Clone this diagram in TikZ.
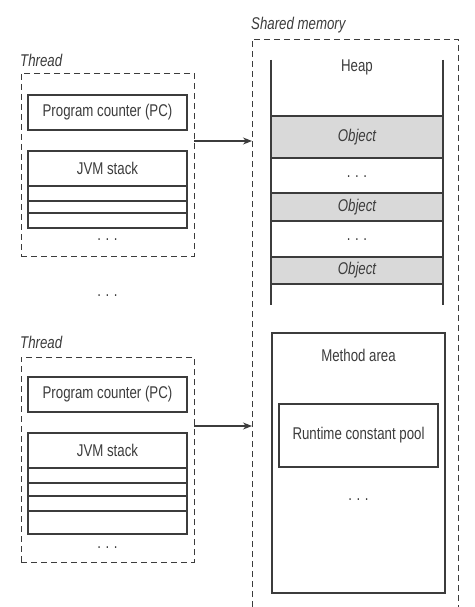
\documentclass[tikz,border=0pt]{standalone}
\usepackage{fontspec}
\setmainfont{Liberation Sans}[FakeStretch=0.78]
\usetikzlibrary{arrows.meta}
\definecolor{linegray}{HTML}{3C3C3C}
\definecolor{objgray}{HTML}{D9D9D9}
\newcommand{\rowdots}{.\hspace{4.5pt}.\hspace{4.5pt}.}
\tikzset{
	x=1pt,y=-1pt,
	box/.style={draw=linegray,line width=1.1pt,inner sep=0pt,outer sep=0pt,
		font=\fontsize{17}{19}\selectfont,text=linegray},
	dashbox/.style={draw=linegray,line width=0.9pt,dash pattern=on 6pt off 4pt,
		inner sep=0pt,outer sep=0pt},
	lbl/.style={font=\fontsize{17}{19}\selectfont,text=linegray,inner sep=0pt},
	tag/.style={font=\fontsize{17}{19}\selectfont\itshape,text=linegray,inner sep=0pt,anchor=west},
	obj/.style={box,fill=objgray,font=\fontsize{17}{19}\selectfont\itshape,
		minimum width=172pt},
	arr/.style={-{Stealth[length=9pt,width=7pt]},draw=linegray,line width=1.1pt},
	rule/.style={draw=linegray,line width=1.1pt},
}
\begin{document}
\begin{tikzpicture}
	\useasboundingbox[fill=white] (0,0) rectangle (474,607);
	% Threads
	\node[tag] (tag1) at (20,60) {Thread};
	\node[dashbox,minimum width=173pt,minimum height=183pt] (thread1) at (107.5,164.5) {};
	\node[box,minimum width=159pt,minimum height=35pt] (pc1) at (107.5,112.5) {Program counter (PC)};
	\node[box,minimum width=159pt,minimum height=35pt] (jvm1) at (107.5,168.5) {JVM stack};
	\draw[rule] (jvm1.south west) rectangle (187,228);
	\foreach \y in {201,213}
		\draw[rule] (28,\y)--(187,\y);
	\node[lbl] (dots1) at (107.5,240) {\rowdots};
	\node[lbl] (dotsmid) at (107.5,296) {\rowdots};
	\node[tag] (tag2) at (20,342) {Thread};
	\node[dashbox,minimum width=173pt,minimum height=205pt] (thread2) at (107.5,459.5) {};
	\node[box,minimum width=159pt,minimum height=35pt] (pc2) at (107.5,394.5) {Program counter (PC)};
	\node[box,minimum width=159pt,minimum height=35pt] (jvm2) at (107.5,450.5) {JVM stack};
	\draw[rule] (jvm2.south west) rectangle (187,534);
	\foreach \y in {483,496,511}
		\draw[rule] (28,\y)--(187,\y);
	\node[lbl] (dots2) at (107.5,548) {\rowdots};
	% Shared memory
	\node[tag] (tagshared) at (251,25) {Shared memory};
	\draw[dashbox] (252,607) |- (458,39) -- (458,607);
	\coordinate (in1) at (252,141);
	\coordinate (in2) at (252,426);
	% Heap
	\node[lbl] (heap) at (357,67) {Heap};
	\draw[rule] (271,60)--(271,305) (443,60)--(443,305);
	\node[obj,minimum height=42pt] (obj1) at (357,137) {Object};
	\node[lbl] (dotsh1) at (357,177) {\rowdots};
	\node[obj,minimum height=28pt] (obj2) at (357,207) {Object};
	\node[lbl] (dotsh2) at (357,240) {\rowdots};
	\node[obj,minimum height=27pt] (obj3) at (357,270.5) {Object};
	% Method area
	\node[box,minimum width=173pt,minimum height=260pt] (method) at (358.5,463) {};
	\node[lbl] (methodtitle) at (358.5,355) {Method area};
	\node[box,minimum width=159pt,minimum height=63pt] (pool) at (358.5,435.5) {Runtime constant pool};
	\node[lbl] (dotsm) at (358.5,500) {\rowdots};
	% arrows
	\draw[arr] (thread1.east |- in1) -- (in1);
	\draw[arr] (thread2.east |- in2) -- (in2);
\end{tikzpicture}
\end{document}
